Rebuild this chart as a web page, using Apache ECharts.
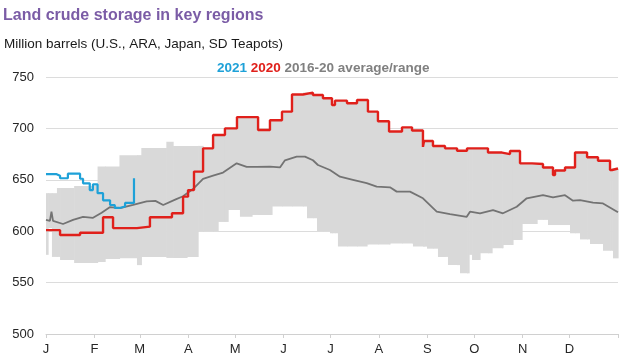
<!DOCTYPE html>
<html>
<head>
<meta charset="utf-8">
<script src="https://cdn.jsdelivr.net/npm/echarts@6/dist/echarts.min.js"></script>
<style>html,body{margin:0;padding:0;background:#fff}#c{width:640px;height:360px}</style>
</head>
<body>
<div id="c"></div>
<script>
// ---- data (day of year 2020, million barrels) ----
const monthLetters = ['J','F','M','A','M','J','J','A','S','O','N','D'];
const monthStartDays = [0,31,60,91,121,152,182,213,244,274,305,335,366];
const yMin = 500, yMax = 750, yStep = 50;

const bandDays = [0,1.3,3.8,7,9,18,33,37.8,47,58.2,61,77,81.3,90.2,97.3,100.5,106.9,110.1,114.5,116.5,122.2,124.1,131.8,135.7,143.3,144.6,151,157.4,164.4,167,170.8,173.4,177.2,181.7,183,184.9,186.8,192.6,199,205.4,206,212.4,219.5,220.1,227.8,234.2,234.8,241.2,241.9,243.8,247.6,250.8,255.3,257.2,263,264.9,269.4,270.7,272.6,277.7,282.8,285.4,291.8,292.4,296.9,298.8,303.3,304.6,311,314.2,318,321.2,324.4,325.7,332.1,335.3,338.5,341.7,346.2,348.1,353.2,356.4,360.9,362.2,362.8,366];
const bandHigh = [637,637,637,642,642,644,663,663,674,674,681,687,683,683,683,680.6,693.6,693.6,700,700,711,711,711,698.4,708,708,716.3,733,734.8,734.8,732.5,732.5,729.3,729.3,722.8,727,727,724.4,727.6,727.6,716.3,707,697,697,701,698,698,682,687.7,687.7,682.9,682.9,680.6,680.6,678.3,678.3,680.6,680.6,680.6,680.6,676.5,676.5,675,675,678,678,666,666,665.4,665.4,662,662,654.7,659,662,662,676.5,676.5,672,672,668.6,668.6,659.5,661,661,661];
const bandLow = [577,603,575,575,572,569,570,573,573.6,567,575,574,574,575,600,600,600,609,609,620.6,620.6,614,615.8,615.8,615.8,624,624,624,624,612.6,612.6,600,600,598,598,598,585,585,585,587,587,587,587,588,588,588,585,585,585,583,583,575,575,567,567,559,559,577,572,578.5,578.5,583.4,583.4,586.6,586.6,591.5,591.5,607,607,611,611,606,606,606,606,598,598,592,592,587.5,587.5,581,581,581,573.6,573.6];

const avgDays = [0,2.5,3.5,4.5,10.9,17.3,23.7,30.1,35.6,41,47.4,55.7,64.4,70,75,83,87.7,94,100.5,106.9,113.3,122,128.4,134.8,143.3,149.7,152.9,160.4,165.7,170.8,174,181.7,188.1,196.4,205.2,211.6,220.1,224.4,232.9,241.2,250,258.5,269.2,271.3,277.7,286,292.4,301.2,307.6,318,324.4,332.1,337.2,341.7,350,356.4,366];
const avgValues = [611,610,619,610,607,611,614,613,618,623.5,622.5,625.5,629,629.5,625.5,631,634,641,651,654,657,666,662.5,662.5,662.8,662,669,672.5,672.5,669,664.4,659.5,653,650,646.8,643.3,642.7,638.5,638.5,632,619,616.7,614,619,617.4,620.6,617.4,623.8,632,635.2,633,635,629.7,630.3,627.7,627,618.4];

const redDays = [0,9,21.8,36.5,42.9,58.2,66.5,80.6,87.7,90.9,94.7,100.5,106.9,114.5,122.2,135.7,143.3,151,157.4,164.4,170.8,177.2,183,184.9,192.6,199,206,212.4,219.5,227.8,234.2,241.2,241.9,247.6,255.3,263,269.4,282.8,291.8,296.9,303.3,311,318,324.4,325.7,332.1,338.5,346.2,353.2,360.9,362.2,366];
const redValues = [601,596.3,598.5,613.5,603,604.4,613.5,617.4,633.6,640,658,680.6,693.6,700,711,698.4,708,716.3,733,734.8,732.5,729.3,722.8,727,724.4,727.6,716.3,707,697,701,698,682,687.7,682.9,680.6,678.3,680.6,676.5,675,678,666,665.4,662,654.7,659,662,676.5,672,668.6,659.5,661,661];

const blueDays = [0,6.8,9,14,21.8,23.7,28,30,33,36.5,41,44,47,50.6,56.3];
const blueValues = [655.5,654,651.5,656,651,646.6,640,645.5,637,630,625.5,622.6,624,627.5,651.5];

// ---- helpers ----
const pairs = (days, vals) => days.map((d, i) => [d, vals[i]]);
// band segments: [startDay, endDay, low, high]
const bandSegs = [];
for (let i = 0; i < bandDays.length - 1; i++) {
  bandSegs.push([bandDays[i], bandDays[i + 1], bandLow[i], bandHigh[i]]);
}

const FONT = 'Liberation Sans, Arial, sans-serif';
const chart = echarts.init(document.getElementById('c'), null, {renderer: 'canvas'});
chart.setOption({
  animation: false,
  backgroundColor: '#fff',
  title: [
    {text: 'Land crude storage in key regions', left: 3, top: 8, padding: 0,
     textStyle: {fontFamily: FONT, fontSize: 16, fontWeight: 'bold', color: '#7b5ca6'}},
    {text: 'Million barrels (U.S., ARA, Japan, SD Teapots)', left: 4, top: 37, padding: 0,
     textStyle: {fontFamily: FONT, fontSize: 13.5, fontWeight: 'normal', color: '#1a1a1a'}},
    {text: '{b|2021} {r|2020} {g|2016-20 average/range}', left: 217, top: 61, padding: 0,
     textStyle: {fontFamily: FONT, fontSize: 13.5, fontWeight: 'bold',
       rich: {
         b: {fontFamily: FONT, fontSize: 13.5, fontWeight: 'bold', color: '#1ea1d8'},
         r: {fontFamily: FONT, fontSize: 13.5, fontWeight: 'bold', color: '#e0201b'},
         g: {fontFamily: FONT, fontSize: 13.5, fontWeight: 'bold', color: '#808080'}
       }}}
  ],
  grid: {left: 46, right: 22, top: 77, bottom: 26, containLabel: false},
  xAxis: {
    type: 'value',
    min: 0, max: 366,
    axisLine: {show: true, lineStyle: {color: '#d0d0d0', width: 1}},
    axisTick: {show: true, length: 4, lineStyle: {color: '#d0d0d0'}, customValues: monthStartDays},
    axisLabel: {customValues: monthStartDays.slice(0, 12), margin: 9, fontFamily: FONT, fontSize: 13, color: '#262626',
      formatter: v => monthLetters[monthStartDays.indexOf(v)] || ''},
    splitLine: {show: false}
  },
  yAxis: {
    type: 'value', min: yMin, max: yMax, interval: yStep,
    axisLine: {show: false}, axisTick: {show: false},
    axisLabel: {margin: 12, fontFamily: FONT, fontSize: 13, color: '#262626'},
    splitLine: {lineStyle: {color: '#dcdcdc', width: 1}}
  },
  series: [
    {name: 'range', type: 'custom', silent: true, z: 1,
     encode: {x: [0, 1], y: [2, 3]},
     data: bandSegs,
     renderItem: function (params, api) {
       const p1 = api.coord([api.value(0), api.value(3)]);
       const p2 = api.coord([api.value(1), api.value(2)]);
       return {type: 'rect',
         shape: {x: p1[0], y: p1[1], width: p2[0] - p1[0] + 0.6, height: p2[1] - p1[1]},
         style: {fill: '#d9d9d9', stroke: null}};
     }},
    {name: 'avg', type: 'line', symbol: 'none', data: pairs(avgDays, avgValues),
     lineStyle: {color: '#737373', width: 1.8}, z: 3},
    {name: '2020', type: 'line', step: 'end', symbol: 'none', data: pairs(redDays, redValues),
     lineStyle: {color: '#e0201b', width: 2.4}, z: 4},
    {name: '2021', type: 'line', step: 'end', symbol: 'none', data: pairs(blueDays, blueValues),
     lineStyle: {color: '#1ea1d8', width: 2.2}, z: 5}
  ]
});
</script>
</body>
</html>
